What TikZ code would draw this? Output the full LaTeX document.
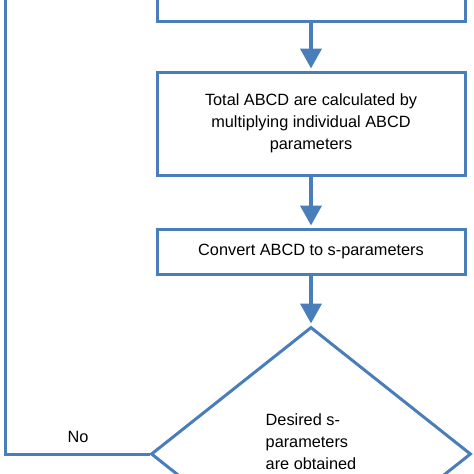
\documentclass[tikz,border=0pt]{standalone}
\usepackage{fontspec}
\setmainfont{Liberation Sans}
\usetikzlibrary{shapes.geometric,arrows.meta}
\definecolor{flowblue}{HTML}{4A7EBB}
\tikzset{
  stepbox/.style={draw=flowblue,line width=3pt,minimum width=308pt,align=center,
    font=\fontsize{16.3}{22}\selectfont},
  decision/.style={draw=flowblue,line width=3pt,diamond,aspect=1.26,
    minimum width=320pt,minimum height=254pt,inner sep=0pt},
  flow/.style={draw=flowblue,line width=4pt,shorten >=2pt,
    -{Triangle[width=21pt,length=20pt]}},
  loopline/.style={draw=flowblue,line width=3pt}
}
\begin{document}
\begin{tikzpicture}[x=1pt,y=-1pt]
  \useasboundingbox (0,0) rectangle (474,474);
  % boxes
  \node[stepbox,minimum height=62pt] (prev) at (311,-10) {};
  \node[stepbox,minimum height=103pt] (total) at (311,123.5)
    {Total ABCD are calculated by\\multiplying individual ABCD\\parameters};
  \node[stepbox,minimum height=45pt] (convert) at (311,251.5)
    {Convert ABCD to s-parameters};
  \node[decision] (check) at (311,454) {};
  \node[align=left,font=\fontsize{16.3}{22}\selectfont] (checktxt) at (311,442)
    {Desired s-\\parameters\\are obtained};
  % arrows
  \draw[flow] (prev.south) -- (total.north);
  \draw[flow] (total.south) -- (convert.north);
  \draw[flow] (convert.south) -- (check.north);
  % back loop
  \coordinate (loopend) at (5,-10);
  \draw[loopline] (check.west) -| (loopend);
  \node[font=\fontsize{16.3}{22}\selectfont] (no) at (78,437) {No};
\end{tikzpicture}
\end{document}
